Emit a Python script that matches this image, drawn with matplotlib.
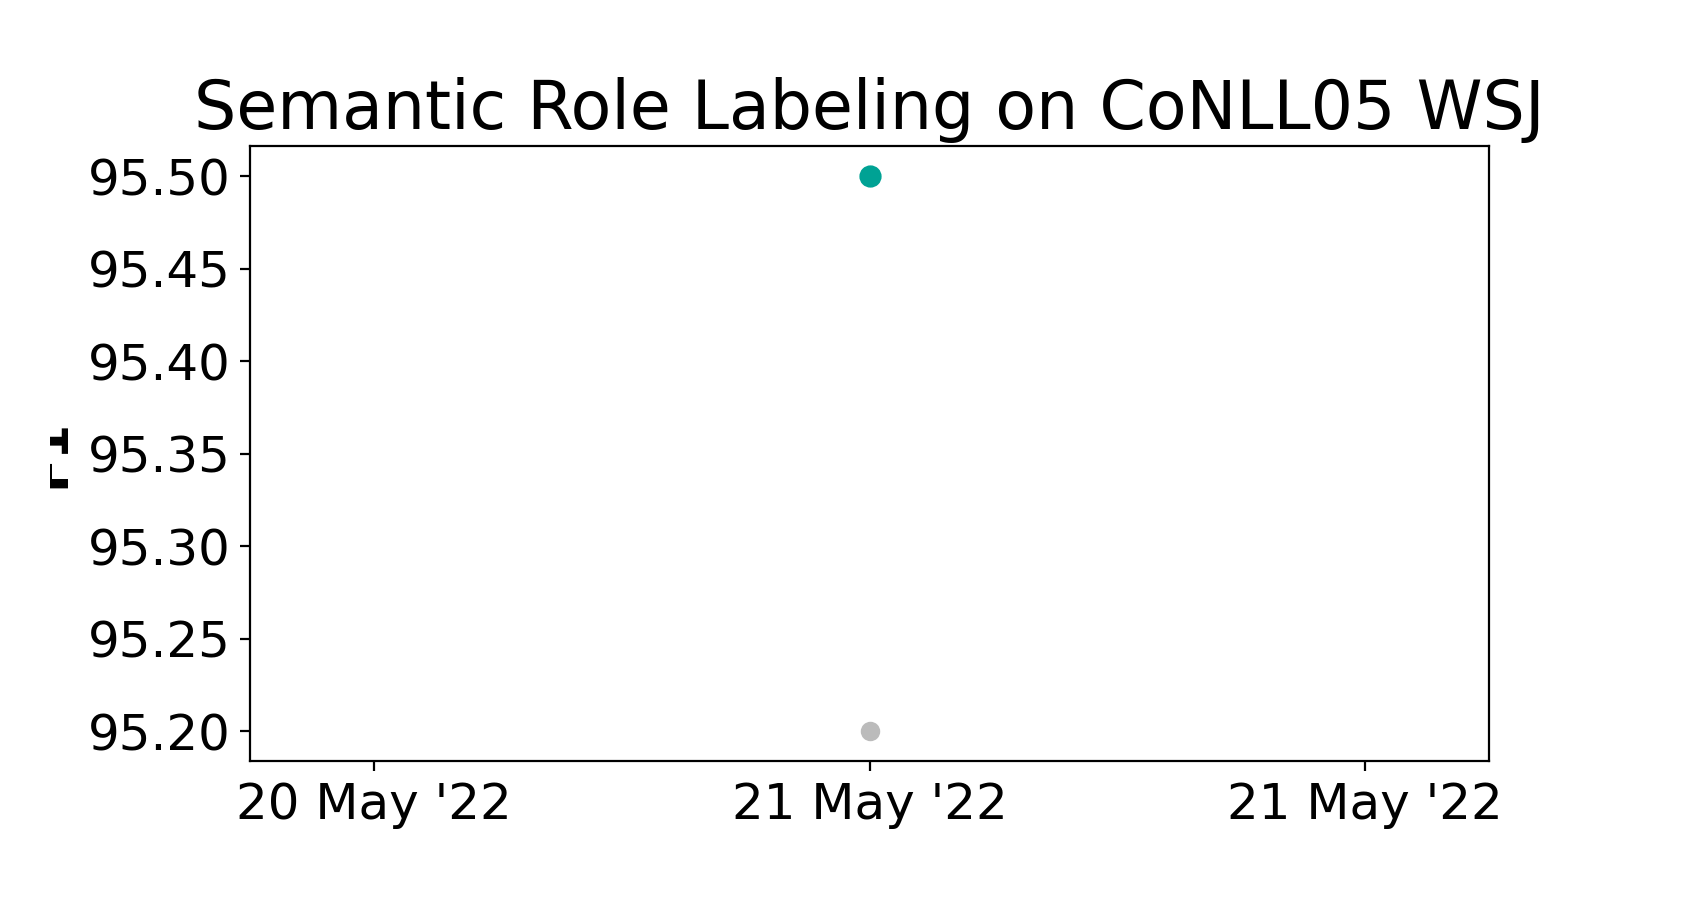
import matplotlib
matplotlib.use("Agg")
import matplotlib.pyplot as plt
import matplotlib.dates as mdates
from matplotlib.patches import Rectangle
import datetime as dt

dates = [dt.datetime(2022, 5, 21), dt.datetime(2022, 5, 21)]
scores = [95.50, 95.20]
colors = ["#00a294", "#bbbbbb"]
sizes = [7, 6]
tick_dates = [dt.datetime(2022, 5, 20, 12), dt.datetime(2022, 5, 21, 0), dt.datetime(2022, 5, 21, 12)]
title = "Semantic Role Labeling on CoNLL05 WSJ"
ylabel = "F1"

fig = plt.figure(figsize=(8.5, 4.5), dpi=200)
ax = fig.add_axes([0.147, 0.154, 0.876 - 0.147, 0.838 - 0.154])
for d, s, c, m in zip(dates, scores, colors, sizes):
    ax.plot([d], [s], "o", color=c, markersize=m)

ax.set_xlim(dates[0] - dt.timedelta(hours=15), dates[0] + dt.timedelta(hours=15))
ax.set_ylim(95.1836, 95.5164)
ax.set_xticks(tick_dates)
ax.xaxis.set_major_formatter(mdates.DateFormatter("%d %b '%y"))
ax.set_yticks([95.20, 95.25, 95.30, 95.35, 95.40, 95.45, 95.50])
ax.yaxis.set_major_formatter(matplotlib.ticker.FormatStrFormatter("%.2f"))
ax.tick_params(labelsize=18)
ax.set_title(title, fontsize=24)
ax.set_ylabel(ylabel, fontsize=18, fontweight="bold")
ax.yaxis.set_label_coords(-0.1419, 0.5)

# the reference shows the y label cut off at the left edge
fig.add_artist(Rectangle((0, 0), 50 / 1700, 1, transform=fig.transFigure,
                         facecolor="white", edgecolor="none", zorder=10))

fig.savefig("out.png", dpi=200)
